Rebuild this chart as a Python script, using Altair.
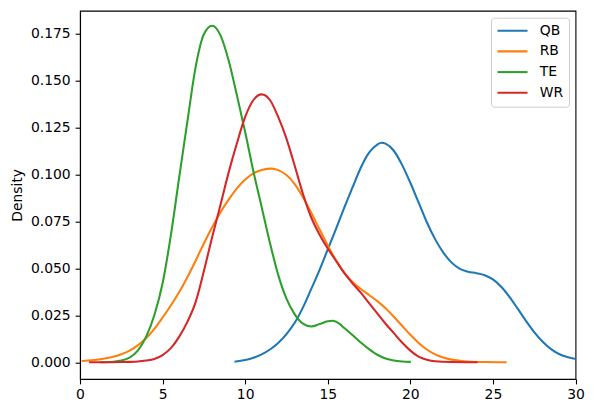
import altair as alt
import pandas as pd

positions = ["QB", "RB", "TE", "WR"]
colors = ["#1f77b4", "#ff7f0e", "#2ca02c", "#d62728"]

qb_x = [9.35, 10.0, 10.5, 11.0, 11.5, 12.0, 12.5, 13.0, 13.5, 14.0, 14.5, 15.0, 15.5, 16.0,
        16.5, 17.0, 17.5, 18.0, 18.25, 18.5, 19.0, 19.5, 20.0, 20.5, 21.0, 21.5, 22.0, 22.5,
        23.0, 23.5, 24.0, 24.5, 25.0, 25.5, 26.0, 26.5, 27.0, 27.5, 28.0, 28.5, 29.0, 29.5, 30.05]
qb_y = [0.0003, 0.0012, 0.0024, 0.0042, 0.0068, 0.0103, 0.0150, 0.0210, 0.0292, 0.0390, 0.0490,
        0.0600, 0.0710, 0.0822, 0.0930, 0.1035, 0.1115, 0.1158, 0.1168, 0.1163, 0.1125, 0.1050,
        0.0955, 0.0850, 0.0745, 0.0655, 0.0583, 0.0530, 0.0497, 0.0482, 0.0474, 0.0463, 0.0441,
        0.0402, 0.0348, 0.0285, 0.0220, 0.0160, 0.0110, 0.0071, 0.0044, 0.0028, 0.0017]

rb_x = [0.1, 0.5, 1.0, 1.5, 2.0, 2.5, 3.0, 3.5, 4.0, 4.5, 5.0, 5.5, 6.0, 6.5, 7.0, 7.5, 8.0,
        8.5, 9.0, 9.5, 10.0, 10.5, 11.0, 11.6, 12.0, 12.5, 13.0, 13.5, 14.0, 14.5, 15.0, 15.5,
        16.0, 16.5, 17.0, 17.5, 18.0, 18.5, 19.0, 19.5, 20.0, 20.5, 21.0, 21.5, 22.0, 22.5,
        23.0, 23.5, 24.5, 25.83]
rb_y = [0.0006, 0.0009, 0.0013, 0.0020, 0.0029, 0.0043, 0.0062, 0.0090, 0.0128, 0.0178, 0.0238,
        0.0302, 0.0372, 0.0452, 0.0540, 0.0632, 0.0718, 0.0797, 0.0865, 0.0925, 0.0972, 0.1005,
        0.1023, 0.1030, 0.1022, 0.0996, 0.0948, 0.0878, 0.0795, 0.0708, 0.0622, 0.0542, 0.0476,
        0.0427, 0.0390, 0.0358, 0.0325, 0.0287, 0.0242, 0.0194, 0.0146, 0.0103, 0.0068, 0.0042,
        0.0025, 0.0014, 0.0008, 0.0004, 0.0001, 0.0]

te_x = [1.2, 2.0, 2.5, 3.0, 3.5, 4.0, 4.5, 5.0, 5.5, 6.0, 6.5, 7.0, 7.5, 8.0, 8.5, 9.0, 9.5,
        10.0, 10.5, 11.0, 11.5, 12.0, 12.5, 13.0, 13.5, 14.0, 14.5, 15.0, 15.3, 15.7, 16.0,
        16.5, 17.0, 17.5, 18.0, 18.5, 19.0, 19.5, 20.03]
te_y = [0.0, 0.0003, 0.0009, 0.0025, 0.0062, 0.0135, 0.0250, 0.0420, 0.0675, 0.0980, 0.1280,
        0.1570, 0.1745, 0.1790, 0.1740, 0.1605, 0.1420, 0.1225, 0.1015, 0.0825, 0.0635, 0.0465,
        0.0338, 0.0255, 0.0205, 0.0190, 0.0203, 0.0218, 0.0221, 0.0205, 0.0182, 0.0145, 0.0105,
        0.0070, 0.0040, 0.0020, 0.0009, 0.0004, 0.0002]

wr_x = [0.55, 1.5, 2.5, 3.0, 3.5, 4.0, 4.5, 5.0, 5.5, 6.0, 6.5, 7.0, 7.5, 8.0, 8.5, 9.0, 9.5,
        10.0, 10.5, 11.0, 11.5, 12.0, 12.5, 13.0, 13.5, 14.0, 14.5, 15.0, 15.5, 16.0, 16.5,
        17.0, 17.5, 18.0, 18.5, 19.0, 19.5, 20.0, 20.5, 21.0, 21.5, 22.5, 24.07]
wr_y = [0.0, 0.00003, 0.0001, 0.0002, 0.0004, 0.0009, 0.0017, 0.0038, 0.0075, 0.0135, 0.0215,
        0.0320, 0.0485, 0.0665, 0.0835, 0.1010, 0.1165, 0.1305, 0.1395, 0.1425, 0.1395, 0.1305,
        0.1190, 0.1045, 0.0895, 0.0770, 0.0680, 0.0605, 0.0540, 0.0475, 0.0420, 0.0370, 0.0315,
        0.0260, 0.0205, 0.0155, 0.0105, 0.0062, 0.0030, 0.0013, 0.0005, 0.0001, 0.0]

x_ticks = [0, 5, 10, 15, 20, 25, 30]
y_ticks = [0.0, 0.025, 0.05, 0.075, 0.1, 0.125, 0.15, 0.175]

rows = []
for name, xs, ys in [("QB", qb_x, qb_y), ("RB", rb_x, rb_y), ("TE", te_x, te_y), ("WR", wr_x, wr_y)]:
    for i, (xv, yv) in enumerate(zip(xs, ys)):
        rows.append({"x": xv, "Density": yv, "position": name, "order": i})
df = pd.DataFrame(rows)

FONT = "DejaVu Sans"
FS = 13.9

chart = alt.Chart(df).mark_line(strokeWidth=2.08, interpolate="monotone", clip=True).encode(
    x=alt.X("x:Q",
            scale=alt.Scale(domain=[0, 30], nice=False, zero=False),
            axis=alt.Axis(values=x_ticks, title=None, format="d", grid=False,
                          labelFont=FONT, labelFontSize=FS, labelColor="black",
                          tickColor="black", tickWidth=1.1, tickSize=4.9,
                          domainColor="black", domainWidth=1.1, labelPadding=3.5,
                          labelFlush=False)),
    y=alt.Y("Density:Q",
            scale=alt.Scale(domain=[-0.0089, 0.187], nice=False, zero=False),
            axis=alt.Axis(values=y_ticks, title="Density", format=".3f", grid=False,
                          labelFont=FONT, labelFontSize=FS, labelColor="black",
                          tickColor="black", tickWidth=1.1, tickSize=4.9,
                          domainColor="black", domainWidth=1.1, labelPadding=4.9,
                          labelFlush=False,
                          titleFont=FONT, titleFontSize=FS, titleFontWeight="normal",
                          titleColor="black", titlePadding=6)),
    color=alt.Color("position:N",
                    scale=alt.Scale(domain=positions, range=colors),
                    legend=alt.Legend(title=None, orient="top-right", offset=7,
                                      symbolType="stroke", symbolSize=900,
                                      symbolStrokeWidth=2.08, labelFont=FONT,
                                      labelFontSize=FS, labelColor="black",
                                      labelOffset=10.7, padding=5, clipHeight=16,
                                      rowPadding=4.7, strokeColor="#cccccc",
                                      fillColor="rgba(255,255,255,0.8)",
                                      cornerRadius=3)),
    order="order:Q",
).properties(
    width=495.5, height=368.3,
    autosize=alt.AutoSizeParams(type="none"),
    padding={"left": 72, "top": 2.7, "right": 9, "bottom": 25},
).configure_view(stroke="black", strokeWidth=1.1)

chart.save("out.html", embed_options={"renderer": "svg", "actions": False})
